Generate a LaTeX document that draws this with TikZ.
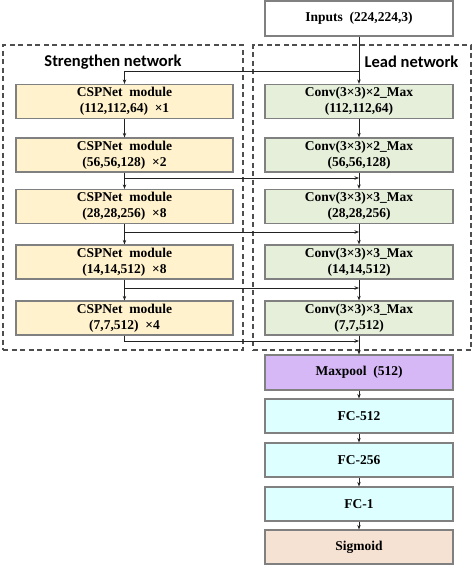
\documentclass[tikz,border=0pt]{standalone}
\usepackage{fontspec}
\setmainfont{Liberation Serif}
\newfontfamily\sansbold{Carlito}
\usetikzlibrary{arrows.meta}
\definecolor{yel}{HTML}{FFF2CC}
\definecolor{grn}{HTML}{E6EFDA}
\definecolor{pur}{HTML}{D6B8F6}
\definecolor{cyn}{HTML}{DDFFFF}
\definecolor{pch}{HTML}{F5E2D3}
\definecolor{bord}{HTML}{808080}
\definecolor{lin}{HTML}{222222}
\begin{document}
\begin{tikzpicture}[x=1pt,y=-1pt,
  box/.style={draw=bord,line width=1.2pt,rectangle,inner sep=0pt,align=center,
    font=\fontsize{13.5}{16}\selectfont\bfseries,text=black},
  lbox/.style={box,fill=yel,minimum width=217pt,minimum height=34pt},
  rbox/.style={box,minimum width=188pt,minimum height=34pt},
  grp/.style={draw=lin!80,line width=1.1pt,dash pattern=on 5pt off 3.5pt},
  title/.style={font=\fontsize{16.5}{19}\sansbold\bfseries,text=black},
  conn/.style={draw=lin,line width=0.8pt},
  arr/.style={conn,-{Stealth[length=4.5pt,width=3.5pt]}}]
\useasboundingbox (0,0) rectangle (474,568);
\fill[white] (0,0) rectangle (474,568);
% group frames
\node[grp,rectangle,minimum width=240pt,minimum height=305pt,inner sep=0pt] (gl) at (123,197.5) {};
\node[grp,rectangle,minimum width=218pt,minimum height=305pt,inner sep=0pt] (gr) at (362,197.5) {};
\node[title,anchor=center] (tl) at (113,62) {Strengthen network};
\node[title,anchor=center] (tr) at (411.5,62) {Lead network};
% input
\node[rbox,fill=white,minimum height=35pt] (in) at (359,18.5) {Inputs\ \ (224,224,3)};
% left column
\node[lbox] (s1) at (124.5,101.5) {CSPNet\ \ module\\(112,112,64)\ \ ×1};
\node[lbox] (s2) at (124.5,155) {CSPNet\ \ module\\(56,56,128)\ \ ×2};
\node[lbox] (s3) at (124.5,206.5) {CSPNet\ \ module\\(28,28,256)\ \ ×8};
\node[lbox] (s4) at (124.5,262) {CSPNet\ \ module\\(14,14,512)\ \ ×8};
\node[lbox] (s5) at (124.5,318) {CSPNet\ \ module\\(7,7,512)\ \ ×4};
% right column
\node[rbox,fill=grn] (c1) at (359,101.5) {Conv(3×3)×2\_Max\\(112,112,64)};
\node[rbox,fill=grn] (c2) at (359,155) {Conv(3×3)×2\_Max\\(56,56,128)};
\node[rbox,fill=grn] (c3) at (359,206.5) {Conv(3×3)×3\_Max\\(28,28,256)};
\node[rbox,fill=grn] (c4) at (359,262) {Conv(3×3)×3\_Max\\(14,14,512)};
\node[rbox,fill=grn] (c5) at (359,318) {Conv(3×3)×3\_Max\\(7,7,512)};
% head
\node[rbox,fill=pur,minimum height=35pt] (mp) at (359,372.5) {Maxpool\ \ (512)};
\node[rbox,fill=cyn] (f1) at (359,416) {FC-512};
\node[rbox,fill=cyn] (f2) at (359,460) {FC-256};
\node[rbox,fill=cyn] (f3) at (359,504) {FC-1};
\node[rbox,fill=pch] (sg) at (359,547) {Sigmoid};
% junction coordinates
\coordinate (j0) at (359,71);
\coordinate (m2) at (359,178);
\coordinate (m3) at (359,232);
\coordinate (m4) at (359,288);
\coordinate (m5) at (359,341);
% connectors
\draw[arr] (in.south) -- (c1.north);
\draw[arr] (j0) -| (s1.north);
\draw[arr] (c1) -- (c2);
\draw[arr] (c2) -- (c3);
\draw[arr] (c3) -- (c4);
\draw[arr] (c4) -- (c5);
\draw[arr] (c5) -- (mp);
\draw[arr] (s1) -- (s2);
\draw[arr] (s2) -- (s3);
\draw[arr] (s3) -- (s4);
\draw[arr] (s4) -- (s5);
\draw[arr] (s2.south) |- (m2);
\draw[arr] (s3.south) |- (m3);
\draw[arr] (s4.south) |- (m4);
\draw[arr] (s5.south) |- (m5);
\draw[arr] (mp) -- (f1);
\draw[arr] (f1) -- (f2);
\draw[arr] (f2) -- (f3);
\draw[arr] (f3) -- (sg);
\end{tikzpicture}
\end{document}
